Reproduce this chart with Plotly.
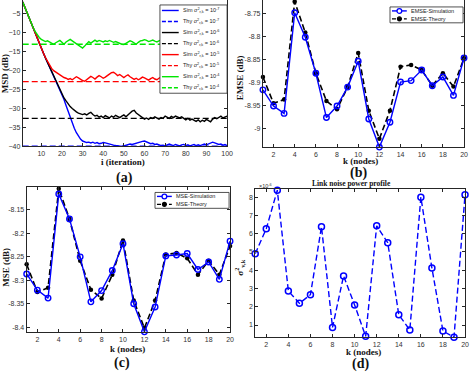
import plotly.graph_objects as go

W, H = 474, 374

# ---------------- data ----------------
iterations = list(range(1, 101))
noise_exponents = [-7, -6, -5, -4]
msd_colors = ["#0000ff", "#000000", "#ff0000", "#00e600"]

msd_sim_1e7 = [-1.8, -3.2, -4.6, -6.0, -7.4, -8.8, -10.1, -11.4, -12.7, -14.0,
               -15.3, -16.6, -17.8, -19.0, -20.2, -21.4, -22.6, -23.8, -25.0, -26.2,
               -27.6, -29.2, -30.8, -32.3, -33.8, -35.2, -36.4, -37.4, -38.1, -38.6,
               -38.9, -39.0, -38.9, -39.1, -38.9, -39.2, -39.0, -39.3, -39.2, -39.0,
               -39.1, -39.3, -39.4, -39.6, -39.7, -39.8, -39.9, -39.8, -40.0, -39.9,
               -39.7, -39.6, -39.4, -39.5, -39.3, -39.2, -39.0, -38.9, -38.7, -38.6,
               -38.8, -39.0, -39.3, -39.2, -39.5, -39.4, -39.6, -39.8, -39.7, -39.9,
               -39.6, -39.4, -39.6, -39.8, -39.5, -39.7, -39.9, -39.6, -39.5, -39.8,
               -39.6, -39.9, -39.7, -39.5, -39.8, -39.6, -39.8, -39.5, -39.4, -39.6,
               -39.3, -39.0, -38.9, -39.1, -39.3, -39.5, -39.4, -39.7, -39.5, -39.8]

msd_sim_1e6 = [-1.8, -3.2, -4.6, -6.0, -7.4, -8.8, -10.1, -11.4, -12.7, -14.0,
               -15.3, -16.6, -17.8, -19.0, -20.2, -21.4, -22.6, -23.8, -25.0, -26.2,
               -27.2, -28.0, -28.8, -29.5, -30.0, -30.5, -30.9, -31.2, -31.5, -31.6,
               -31.4, -31.7, -31.3, -31.0, -31.6, -32.0, -31.8, -32.3, -32.0, -32.4,
               -31.9, -32.2, -32.5, -32.0, -32.3, -31.8, -32.1, -32.4, -32.0, -31.7,
               -32.2, -31.6, -31.2, -30.7, -30.5, -31.2, -31.6, -32.0, -32.3, -32.8,
               -32.5, -32.9, -32.4, -32.6, -32.2, -32.5, -32.8, -32.4, -32.6, -32.0,
               -32.3, -32.6, -32.1, -32.4, -32.0, -32.3, -32.5, -32.2, -32.7, -33.0,
               -32.6, -33.1, -32.8, -33.2, -33.4, -33.0, -33.5, -33.1, -33.4, -32.9,
               -33.2, -33.5, -32.8, -32.4, -32.7, -32.3, -32.0, -32.5, -32.2, -32.0]

msd_sim_1e5 = [-1.8, -3.2, -4.6, -6.0, -7.4, -8.8, -10.1, -11.4, -12.7, -14.0,
               -15.3, -16.5, -17.6, -18.6, -19.4, -20.0, -20.4, -20.8, -21.2, -21.5,
               -21.8, -22.0, -22.3, -22.1, -22.4, -22.0, -21.6, -21.9, -22.3, -22.6,
               -22.8, -22.4, -21.9, -21.5, -21.8, -22.2, -21.7, -21.3, -21.6, -22.0,
               -21.7, -21.2, -20.9, -20.5, -20.4, -20.8, -21.3, -21.0, -21.5, -21.8,
               -21.4, -21.1, -21.6, -22.0, -22.3, -22.0, -22.4, -22.1, -21.7, -21.9,
               -22.3, -22.5, -22.1, -21.8, -22.2, -22.4, -22.0, -21.7, -21.9, -22.3,
               -22.0, -21.6, -21.9, -22.2, -21.8, -21.5, -21.9, -22.3, -22.0, -21.7,
               -22.1, -22.4, -22.0, -21.8, -22.2, -22.5, -22.1, -21.9, -22.3, -22.0,
               -21.7, -22.1, -22.4, -22.0, -21.8, -22.2, -22.5, -22.3, -22.1, -22.4]

msd_sim_1e4 = [-1.8, -3.2, -4.6, -6.0, -7.3, -8.5, -9.6, -10.5, -11.2, -11.7,
               -12.0, -12.3, -12.1, -12.4, -12.7, -13.0, -12.6, -12.2, -12.0, -12.5,
               -13.0, -12.4, -12.0, -11.7, -12.1, -12.5, -12.9, -13.3, -13.8, -14.0,
               -13.5, -12.8, -12.3, -12.7, -12.2, -11.9, -12.3, -12.0, -12.2, -12.4,
               -12.1, -12.3, -12.0, -12.2, -12.5, -12.3, -12.6, -12.8, -13.0, -13.1,
               -12.8, -12.4, -12.1, -12.3, -12.6, -13.0, -12.5, -12.1, -12.0, -11.8,
               -12.0, -12.3, -12.1, -11.9, -12.2, -12.4, -12.1, -11.9, -12.2, -12.5,
               -12.1, -11.8, -12.0, -12.3, -12.6, -12.2, -11.9, -12.1, -12.4, -12.7,
               -12.3, -12.0, -11.8, -12.1, -12.4, -12.2, -11.9, -12.3, -12.6, -12.2,
               -12.0, -11.8, -12.1, -12.4, -12.2, -12.5, -12.3, -12.0, -12.2, -12.3]

msd_thy_levels = [-40.0, -32.6, -22.9, -13.0]

nodes = list(range(1, 21))
emse_sim = [-8.916, -8.951, -8.967, -8.749, -8.802, -8.880, -8.976, -8.951, -8.910, -8.854,
            -8.979, -9.040, -8.986, -8.899, -8.896, -8.873, -8.907, -8.888, -8.928, -8.847]
emse_thy = [-8.888, -8.945, -8.937, -8.725, -8.792, -8.880, -8.940, -8.958, -8.910, -8.836,
            -8.961, -9.022, -8.961, -8.866, -8.862, -8.873, -8.907, -8.880, -8.909, -8.847]

mse_sim = [-8.2865, -8.321, -8.338, -8.116, -8.169, -8.250, -8.346, -8.322, -8.279, -8.222,
           -8.350, -8.410, -8.357, -8.248, -8.246, -8.243, -8.277, -8.261, -8.298, -8.2165]
mse_thy = [-8.266, -8.325, -8.316, -8.1045, -8.169, -8.2585, -8.320, -8.339, -8.288, -8.215,
           -8.343, -8.402, -8.343, -8.245, -8.242, -8.253, -8.288, -8.2585, -8.288, -8.227]

link_noise = [4.90, 6.27, 8.38, 2.86, 2.19, 2.66, 6.38, 0.87, 3.69, 2.10,
              0.38, 6.43, 5.51, 1.56, 0.73, 8.00, 4.12, 0.67, 0.33, 8.13]  # x 1e-6

emse_names = ["EMSE-Simulation", "EMSE-Theory"]
mse_names = ["MSE-Simulation", "MSE-Theory"]

# ---------------- helpers ----------------
def X(px):
    return px / W

def Y(py):
    return 1 - py / H

AX = "#262626"
TICKFONT = dict(family="Liberation Sans", size=7, color="#333333")

fig = go.Figure()

# ---------------- panel (a) ----------------
sims = [msd_sim_1e7, msd_sim_1e6, msd_sim_1e5, msd_sim_1e4]
for ys, col, lvl in zip(sims, msd_colors, msd_thy_levels):
    fig.add_trace(go.Scatter(x=iterations[:len(ys)], y=ys, mode="lines",
                             line=dict(color=col, width=1.4), xaxis="x", yaxis="y",
                             showlegend=False))
    fig.add_trace(go.Scatter(x=[iterations[0], iterations[-1]], y=[lvl, lvl], mode="lines",
                             line=dict(color=col, width=1.4, dash="6px,3px"),
                             xaxis="x", yaxis="y", showlegend=False))

# ---------------- panel (b) ----------------
fig.add_trace(go.Scatter(x=nodes, y=emse_thy, mode="lines+markers",
                         line=dict(color="black", width=1.6, dash="6px,3px"),
                         marker=dict(symbol="circle", size=4.5, color="black"),
                         xaxis="x2", yaxis="y2", showlegend=False, cliponaxis=False))
fig.add_trace(go.Scatter(x=nodes, y=emse_sim, mode="lines+markers",
                         line=dict(color="#0000ff", width=1.4),
                         marker=dict(symbol="circle-open", size=5.5, color="#0000ff",
                                     line=dict(width=1.4, color="#0000ff")),
                         xaxis="x2", yaxis="y2", showlegend=False, cliponaxis=False))

# ---------------- panel (c) ----------------
fig.add_trace(go.Scatter(x=nodes, y=mse_thy, mode="lines+markers",
                         line=dict(color="black", width=1.6, dash="6px,3px"),
                         marker=dict(symbol="circle", size=4.5, color="black"),
                         xaxis="x3", yaxis="y3", showlegend=False, cliponaxis=False))
fig.add_trace(go.Scatter(x=nodes, y=mse_sim, mode="lines+markers",
                         line=dict(color="#0000ff", width=1.4),
                         marker=dict(symbol="circle-open", size=5.5, color="#0000ff",
                                     line=dict(width=1.4, color="#0000ff")),
                         xaxis="x3", yaxis="y3", showlegend=False, cliponaxis=False))

# ---------------- panel (d) ----------------
fig.add_trace(go.Scatter(x=nodes, y=link_noise, mode="lines+markers",
                         line=dict(color="#0000ff", width=1.4, dash="6px,3px"),
                         marker=dict(symbol="circle-open", size=6, color="#0000ff",
                                     line=dict(width=1.5, color="#0000ff")),
                         xaxis="x4", yaxis="y4", showlegend=False, cliponaxis=False))

def axis(domain, rng, tickvals, ticktext=None, mirror=True, anchor=None):
    d = dict(domain=domain, range=rng, tickvals=tickvals, ticks="inside", ticklen=3,
             tickcolor=AX, linecolor=AX, linewidth=1, showline=True, mirror=mirror,
             showgrid=False, zeroline=False, tickfont=TICKFONT, anchor=anchor,
             ticklabeloverflow="allow")
    if ticktext is not None:
        d["ticktext"] = ticktext
    return d

xa_dom = [X(23), X(230)]
ya_dom = [Y(147.5), Y(0)]
xb_dom = [X(266.3), X(470)]
yb_dom = [Y(148.3), Y(0)]
xc_dom = [X(27), X(233)]
yc_dom = [Y(335), Y(189)]
xd_dom = [X(258.5), X(471)]
yd_dom = [Y(340), Y(191)]

fig.update_layout(
    width=W, height=H, margin=dict(l=0, r=0, t=0, b=0),
    paper_bgcolor="white", plot_bgcolor="white", showlegend=False,
    xaxis=axis(xa_dom, [1, 100], list(range(10, 101, 10)), mirror=False, anchor="y"),
    yaxis=axis(ya_dom, [-40, -1.3], list(range(-40, -4, 5)), mirror="ticks", anchor="x"),
    xaxis2=axis(xb_dom, [1, 20], list(range(2, 21, 2)), mirror=False, anchor="y2"),
    yaxis2=axis(yb_dom, [-9.04, -8.7214], [-9, -8.95, -8.9, -8.85, -8.8, -8.75],
                ["-9", "-8.95", "-8.9", "-8.85", "-8.8", "-8.75"], mirror="ticks", anchor="x2"),
    xaxis3=axis(xc_dom, [1, 20], list(range(2, 21, 2)), mirror="ticks", anchor="y3"),
    yaxis3=axis(yc_dom, [-8.411, -8.102], [-8.4, -8.35, -8.3, -8.25, -8.2, -8.15],
                ["-8.4", "-8.35", "-8.3", "-8.25", "-8.2", "-8.15"], mirror="ticks", anchor="x3"),
    xaxis4=axis(xd_dom, [1, 20], list(range(2, 21, 2)), mirror="ticks", anchor="y4"),
    yaxis4=axis(yd_dom, [0.33, 8.42], list(range(1, 9)), mirror="ticks", anchor="x4"),
)

# ---------------- text annotations ----------------
def note(text, px, py, size=9, bold=True, angle=0, family="Liberation Serif", color="#111111",
         xanchor="center"):
    fig.add_annotation(text=("<b>%s</b>" % text) if bold else text,
                       x=X(px), y=Y(py), xref="paper", yref="paper",
                       showarrow=False, textangle=angle, xanchor=xanchor, yanchor="middle",
                       font=dict(family=family, size=size, color=color))

note("MSD (dB)", 5, 74, angle=-90)
note("i (iteration)", 125, 163)
note("(a)", 126, 179, size=14)
note("EMSE (dB)", 243, 78, angle=-90)
note("k (nodes)", 365, 162)
note("(b)", 363, 174, size=14)
note("MSE (dB)", 6, 269, angle=-90)
note("k (nodes)", 129, 352)
note("(c)", 124, 366, size=14)
note("σ<sup>2</sup><sub>v,k</sub>", 243, 270, angle=-90)
note("k (nodes)", 368, 355)
note("(d)", 365, 367, size=14)
note("Link noise power profile", 356, 185, size=7.5)
note("×10<sup>-6</sup>", 260, 188, size=5.5, bold=False, family="Liberation Sans",
     color="#333333", xanchor="left")

# ---------------- manual legends ----------------
def legend_box(x0, y0, x1, y1):
    fig.add_shape(type="rect", xref="paper", yref="paper",
                  x0=X(x0), x1=X(x1), y0=Y(y1), y1=Y(y0),
                  fillcolor="white", line=dict(color="#262626", width=0.8), layer="above")

def legend_item(lx0, lx1, py, color, dash, label, marker=None, size=5.5):
    fig.add_shape(type="line", xref="paper", yref="paper",
                  x0=X(lx0), x1=X(lx1), y0=Y(py), y1=Y(py),
                  line=dict(color=color, width=1.4, dash=dash), layer="above")
    if marker is not None:
        cx = (lx0 + lx1) / 2
        r = 2.4 if marker == "open" else 1.9
        fig.add_shape(type="circle", xref="paper", yref="paper",
                      x0=X(cx - r), x1=X(cx + r), y0=Y(py + r), y1=Y(py - r),
                      fillcolor="white" if marker == "open" else color,
                      line=dict(color=color, width=1.3), layer="above")
    fig.add_annotation(text=label, x=X(lx1 + 2.5), y=Y(py), xref="paper", yref="paper",
                       showarrow=False, xanchor="left", yanchor="middle",
                       font=dict(family="Liberation Sans", size=size, color="#222222"))

# panel (a) legend
legend_box(162, 5, 230, 94)
row = 0
for e, col in zip(noise_exponents, msd_colors):
    for kind, dash in (("Sim", "solid"), ("Thy", "4px,2px")):
        py = 5 + 89 / 8 * (row + 0.5)
        label = "%s σ<sup>2</sup><sub>r,k</sub> = 10<sup>%d</sup>" % (kind, e)
        legend_item(164, 181, py, col, dash, label, size=5.5)
        row += 1

# panel (b) legend
legend_box(395, 7, 469, 23)
legend_item(397, 412, 11, "#0000ff", "solid", emse_names[0], marker="open")
legend_item(397, 412, 19, "black", "4px,2px", emse_names[1], marker="fill")

# panel (c) legend
legend_box(157, 194, 232, 210)
legend_item(159, 174, 198, "#0000ff", "solid", mse_names[0], marker="open")
legend_item(159, 174, 206, "black", "4px,2px", mse_names[1], marker="fill")

fig.write_html("out.html", config={"displayModeBar": False},
               post_script="document.body.style.margin='0';"
               "document.body.style.overflow='hidden';")
